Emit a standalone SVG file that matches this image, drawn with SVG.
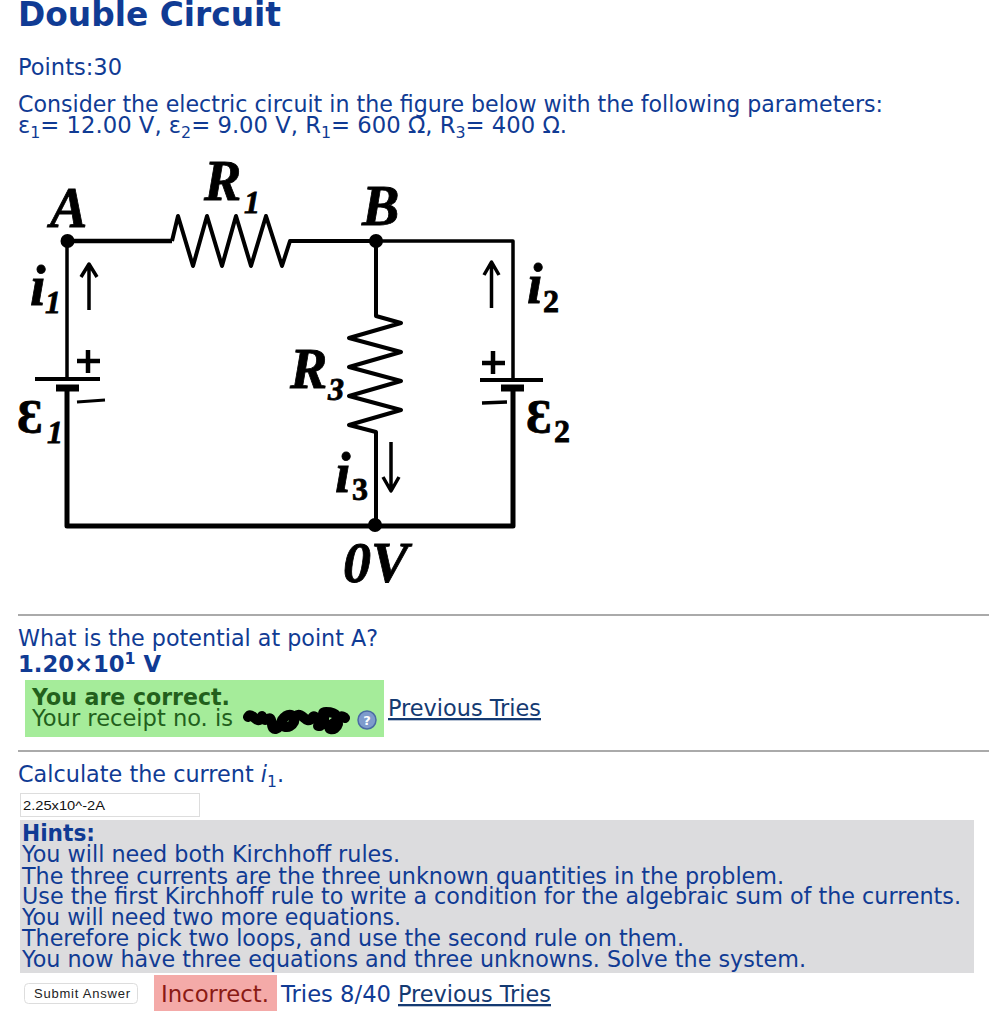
<svg xmlns="http://www.w3.org/2000/svg" width="989" height="1024" viewBox="0 0 989 1024">
<style>
text{font-family:"DejaVu Sans",Verdana,sans-serif;font-size:23px;fill:#103b94}
.b{font-weight:bold}
.s{font-size:16px}
.link{fill:#143a72;text-decoration:underline}
.c{font-family:"Liberation Serif","Times New Roman",serif;font-weight:bold;font-style:italic;font-size:56px;fill:#000;stroke:#000;stroke-width:.8px}
.cs{font-size:32px}
.u{font-style:normal}
.w{fill:none;stroke:#000;stroke-linejoin:round;stroke-linecap:butt}
.hr{stroke:#aaa;stroke-width:2}
</style>
<rect width="989" height="1024" fill="#fff"/>
<text id="title" class="b" x="18" y="26" style="font-size:33px" textLength="263" lengthAdjust="spacingAndGlyphs">Double Circuit</text>
<text x="18" y="75" textLength="104" lengthAdjust="spacingAndGlyphs">Points:30</text>
<text x="18" y="112" textLength="865" lengthAdjust="spacingAndGlyphs">Consider the electric circuit in the figure below with the following parameters:</text>
<text x="18" y="133" textLength="549" lengthAdjust="spacingAndGlyphs">ε<tspan class="s" dy="5">1</tspan><tspan dy="-5">= 12.00 V, ε</tspan><tspan class="s" dy="5">2</tspan><tspan dy="-5">= 9.00 V, R</tspan><tspan class="s" dy="5">1</tspan><tspan dy="-5">= 600 Ω, R</tspan><tspan class="s" dy="5">3</tspan><tspan dy="-5">= 400 Ω.</tspan></text>

<g id="connectors">
<path class="w" stroke-width="4.500" d="M67 241H172"/>
<path class="w" stroke-width="4" d="M172 241L178 216L193 266L207 216L222 266L236 216L251 266L266 216L282 266L290 241H376"/>
<path class="w" stroke-width="3.500" d="M376 241H513V380"/>
<path class="w" stroke-width="3.500" d="M67 241V379"/>
<path class="w" stroke-width="4" d="M376 241V316L401 323L349 338L401 352L349 367L401 381L349 396L401 410L349 425L376 432V526"/>
<path class="w" stroke-width="5" d="M67 388V526H513V388"/>
</g>
<g id="node-A"><circle cx="67.500" cy="241" r="7"/><text class="c" x="50" y="227">A</text></g>
<g id="node-B"><circle cx="376" cy="241" r="7"/><text class="c" x="362" y="225">B</text></g>
<g id="node-0V"><circle cx="375" cy="525" r="7"/><text class="c" x="343" y="582">0V</text></g>
<g id="R1"><text class="c" x="204" y="200">R</text><text class="c cs" x="244" y="213">1</text></g>
<g id="R3"><text class="c" x="290" y="388">R</text><text class="c cs" x="328" y="400">3</text></g>
<g id="battery-1">
<path class="w" stroke-width="4" d="M35 379H100"/><path class="w" stroke-width="7" d="M56 388H79"/>
<path class="w" stroke-width="4.500" d="M77 361H100M88 350V373"/><path class="w" stroke-width="3" d="M77 402L105 400"/>
<text class="c u" x="17" y="433" style="font-size:48px">Ɛ</text><text class="c cs" x="47" y="443">1</text>
</g>
<g id="battery-2">
<path class="w" stroke-width="4" d="M480 380H543"/><path class="w" stroke-width="7" d="M501 388H524"/>
<path class="w" stroke-width="4.500" d="M482 363H505M493 351V374"/><path class="w" stroke-width="3.500" d="M482 403L507 402"/>
<text class="c u" x="526" y="433" style="font-size:48px">Ɛ</text><text class="c cs u" x="554" y="442">2</text>
</g>
<g id="current-1"><path class="w" stroke-width="3.500" d="M89 310V265M81 277L89 264L97 277"/><text class="c" x="30" y="305">i</text><text class="c cs" x="45" y="313">1</text></g>
<g id="current-2"><path class="w" stroke-width="3.500" d="M491.500 308V263M484 275L491.500 262L499 275"/><text class="c" x="527" y="303">i</text><text class="c cs u" x="543" y="312">2</text></g>
<g id="current-3"><path class="w" stroke-width="3.500" d="M391 442V490M383 477L391 491L399 477"/><text class="c" x="335" y="492">i</text><text class="c cs u" x="352" y="500">3</text></g>

<line class="hr" x1="18" y1="615" x2="989" y2="615"/>
<text x="18" y="646" textLength="360" lengthAdjust="spacingAndGlyphs">What is the potential at point A?</text>
<text class="b" x="18" y="672" textLength="143" lengthAdjust="spacingAndGlyphs">1.20×10<tspan class="s" dy="-8">1</tspan><tspan dy="8"> V</tspan></text>
<rect x="25" y="680" width="359" height="57" fill="#a5ec9a"/>
<text class="b" x="32" y="705" style="fill:#22601c" textLength="198" lengthAdjust="spacingAndGlyphs">You are correct.</text>
<text x="32" y="726" style="fill:#22601c" textLength="201" lengthAdjust="spacingAndGlyphs">Your receipt no. is</text>
<path d="M248 717C252 710 258 728 262 716C266 727 270 710 272 724C272 732 280 730 282 720C288 712 296 714 294 722C290 730 280 728 282 720M296 716C302 710 306 726 312 718C316 712 322 726 318 726M320 726C330 718 318 712 326 712C336 712 342 718 332 724C324 730 336 732 338 724C336 714 344 716 345 718" fill="none" stroke="#000" stroke-width="10" stroke-linecap="round" stroke-linejoin="round"/>
<circle cx="367" cy="720" r="9" fill="#7e9bcc" stroke="#4a6aa4" stroke-width="1.500"/>
<text x="367" y="725" text-anchor="middle" class="b" style="font-size:13px;fill:#fff">?</text>
<text class="link" x="388" y="716" textLength="153" lengthAdjust="spacingAndGlyphs">Previous Tries</text>
<line class="hr" x1="18" y1="751" x2="989" y2="751"/>
<text x="18" y="782" textLength="266" lengthAdjust="spacingAndGlyphs">Calculate the current <tspan font-style="italic">i</tspan><tspan class="s" dy="5">1</tspan><tspan dy="-5">.</tspan></text>
<rect x="20.500" y="793.500" width="179" height="23" fill="#fff" stroke="#ddd"/>
<text x="23" y="810" style="font-family:'Liberation Sans',Arial,sans-serif;font-size:13.500px;fill:#111" textLength="82" lengthAdjust="spacingAndGlyphs">2.25x10^-2A</text>
<rect x="20" y="820" width="954" height="153" fill="#dcdcde"/>
<text class="b" x="22" y="841" textLength="73" lengthAdjust="spacingAndGlyphs">Hints:</text>
<text x="22" y="862" textLength="378" lengthAdjust="spacingAndGlyphs">You will need both Kirchhoff rules.</text>
<text x="22" y="884" textLength="762" lengthAdjust="spacingAndGlyphs">The three currents are the three unknown quantities in the problem.</text>
<text x="22" y="904" textLength="939" lengthAdjust="spacingAndGlyphs">Use the first Kirchhoff rule to write a condition for the algebraic sum of the currents.</text>
<text x="22" y="925" textLength="379" lengthAdjust="spacingAndGlyphs">You will need two more equations.</text>
<text x="22" y="946" textLength="662" lengthAdjust="spacingAndGlyphs">Therefore pick two loops, and use the second rule on them.</text>
<text x="22" y="967" textLength="784" lengthAdjust="spacingAndGlyphs">You now have three equations and three unknowns. Solve the system.</text>
<rect x="24.500" y="983.500" width="113" height="20" rx="4" fill="#fff" stroke="#ddd"/>
<text x="34" y="998" style="font-family:'Liberation Sans',Arial,sans-serif;font-size:13px;fill:#222" textLength="96" lengthAdjust="spacing">Submit Answer</text>
<rect x="154" y="975" width="123" height="36" fill="#f4aaa8"/>
<text x="161" y="1002" style="fill:#8a1a14" textLength="108" lengthAdjust="spacingAndGlyphs">Incorrect.</text>
<text x="281" y="1002" textLength="110" lengthAdjust="spacingAndGlyphs">Tries 8/40</text>
<text class="link" x="398" y="1002" textLength="153" lengthAdjust="spacingAndGlyphs">Previous Tries</text>
</svg>
